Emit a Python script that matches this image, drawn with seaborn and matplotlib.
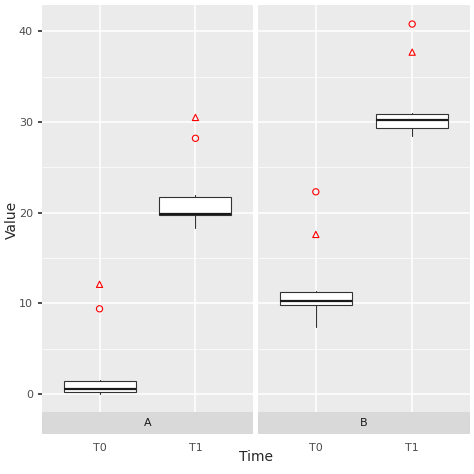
import matplotlib
matplotlib.use("Agg")
import matplotlib.pyplot as plt
import seaborn as sns
import pandas as pd
from matplotlib.patches import Rectangle

# box statistics per facet / time
facets = ["A", "B"]
times = ["T0", "T1"]
box_low = {"A": [0.0, 18.3], "B": [7.4, 28.4]}
box_q1 = {"A": [0.2, 19.7], "B": [9.8, 29.3]}
box_med = {"A": [0.6, 19.9], "B": [10.3, 30.2]}
box_q3 = {"A": [1.4, 21.7], "B": [11.3, 30.9]}
box_high = {"A": [1.5, 21.9], "B": [11.4, 31.0]}

# extra points (red)
circle_vals = {"A": [9.4, 28.2], "B": [22.3, 40.8]}
triangle_vals = {"A": [12.1, 30.5], "B": [17.6, 37.7]}

sns.set_theme(style="white")
plt.rcParams['font.family'] = ['DejaVu Sans']

W = H = 474
fig = plt.figure(figsize=(4.74, 4.74), dpi=100)
panels = [(42, 253), (258, 470)]
top, bottom, strip_bot = 5, 412, 434
ymin, ymax = -1.98, 42.9

for i, (f, (x0, x1)) in enumerate(zip(facets, panels)):
    ax = fig.add_axes([x0 / W, 1 - bottom / H, (x1 - x0) / W, (bottom - top) / H])
    ax.set_facecolor("#EBEBEB")
    for s in ax.spines.values():
        s.set_visible(False)
    ax.set_xlim(-0.6, 1.6)
    ax.set_ylim(ymin, ymax)
    for y in [5, 15, 25, 35]:
        ax.axhline(y, color="white", lw=0.5, zorder=0)
    for y in [0, 10, 20, 30, 40]:
        ax.axhline(y, color="white", lw=1.1, zorder=0)
    for x in [0, 1]:
        ax.axvline(x, color="white", lw=1.1, zorder=0)

    stats = []
    for j, t in enumerate(times):
        stats.append(dict(whislo=box_low[f][j], q1=box_q1[f][j], med=box_med[f][j],
                          q3=box_q3[f][j], whishi=box_high[f][j], fliers=[], label=t))
    ax.bxp(stats, positions=[0, 1], widths=0.75, showfliers=False, patch_artist=True,
           boxprops=dict(facecolor="white", edgecolor="#333333", lw=0.8),
           medianprops=dict(color="#1a1a1a", lw=1.6),
           whiskerprops=dict(color="#333333", lw=0.8),
           capprops=dict(visible=False), manage_ticks=False)

    pts = pd.DataFrame({"x": [0, 1, 0, 1],
                        "y": circle_vals[f] + triangle_vals[f],
                        "shape": ["c", "c", "t", "t"]})
    sns.scatterplot(data=pts, x="x", y="y", style="shape", markers={"c": "o", "t": "^"},
                    color="red", s=20, linewidth=0.8,
                    legend=False, ax=ax, zorder=5)
    for coll in ax.collections:
        coll.set_facecolor("none")
        coll.set_edgecolor("red")

    ax.set_xticks([0, 1])
    ax.set_xticklabels(times)
    ax.set_yticks([0, 10, 20, 30, 40])
    ax.tick_params(axis="x", length=0, pad=22, labelsize=8, labelcolor="#4D4D4D")
    ax.tick_params(axis="y", length=3, color="#333333", labelsize=8, labelcolor="#4D4D4D",
                   left=(i == 0), labelleft=(i == 0))
    ax.set_xlabel("")
    ax.set_ylabel("")
    ax.add_patch(Rectangle((0, -(strip_bot - bottom) / (bottom - top)), 1,
                           (strip_bot - bottom) / (bottom - top), transform=ax.transAxes,
                           facecolor="#D9D9D9", edgecolor="none", clip_on=False))
    ax.text(0.5, -(strip_bot - bottom) / 2 / (bottom - top), f, transform=ax.transAxes,
            ha="center", va="center", fontsize=8, color="#1A1A1A")

fig.text(256 / W, 1 - 457 / H, "Time", ha="center", va="center", fontsize=10)
fig.text(12 / W, 1 - 220 / H, "Value", ha="center", va="center", rotation=90, fontsize=10)
fig.savefig("out.png", dpi=100)
